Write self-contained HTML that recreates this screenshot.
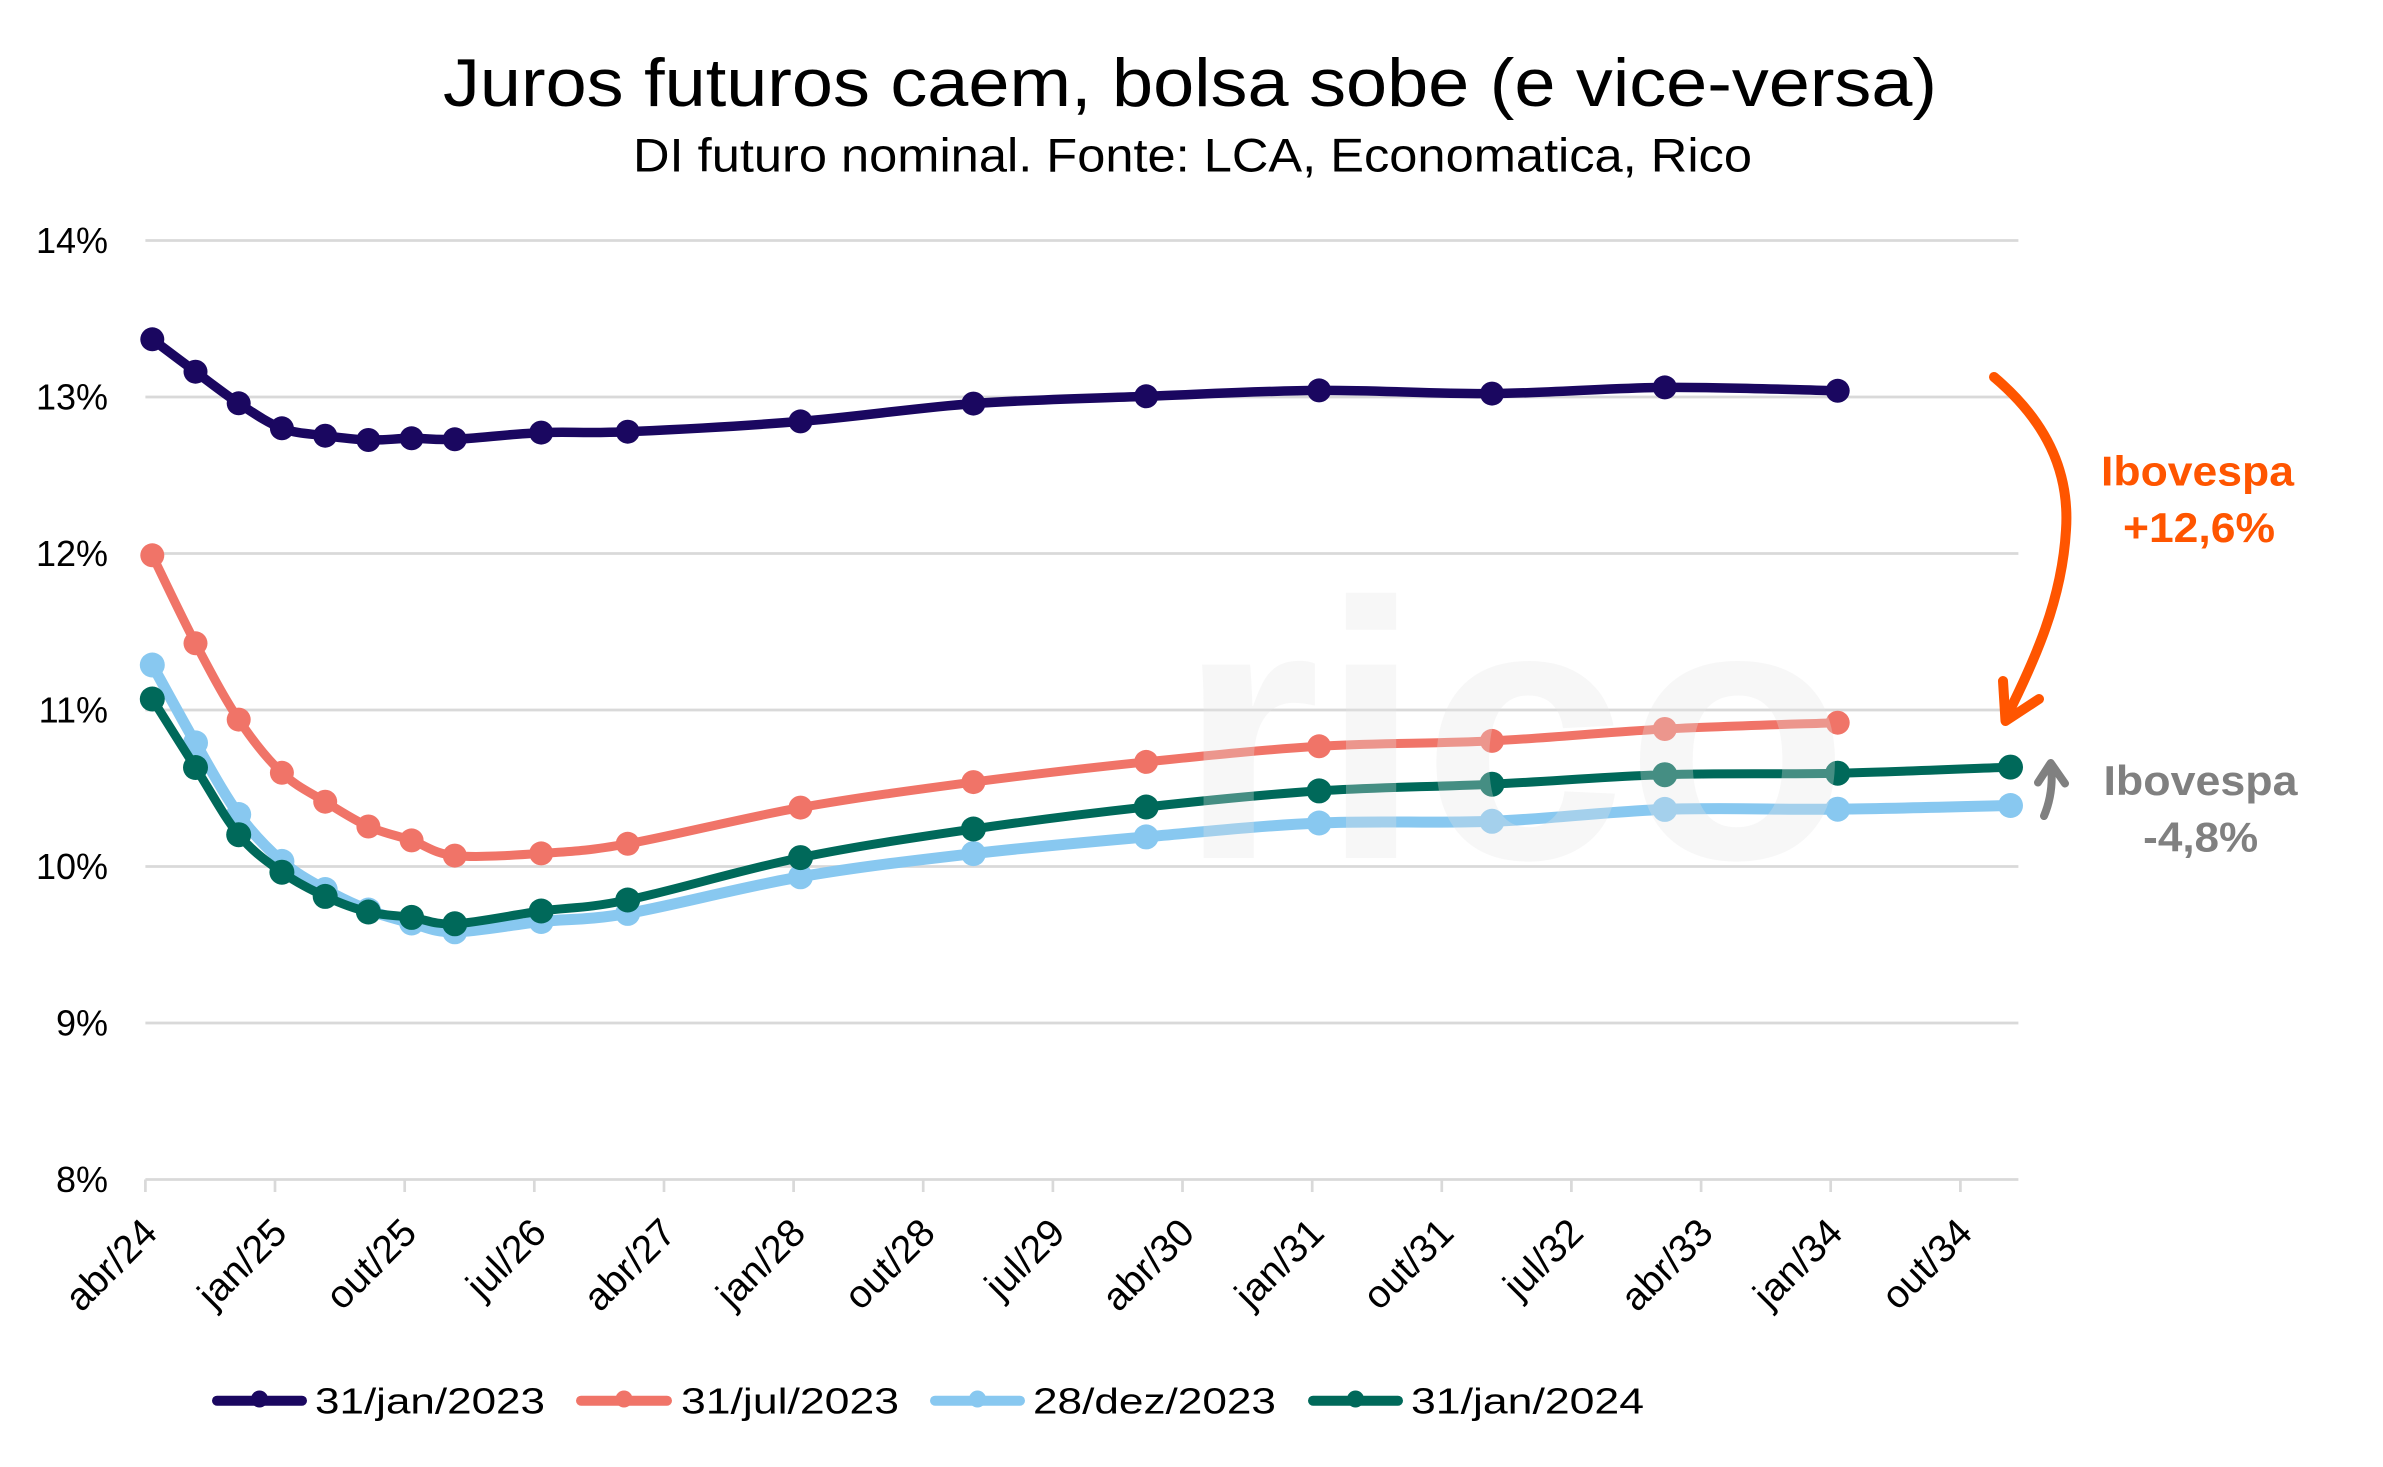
<!DOCTYPE html>
<html>
<head>
<meta charset="utf-8">
<style>
  html,body{margin:0;padding:0;background:#fff;}
  svg{display:block;}
  text{font-family:"Liberation Sans", Arial, sans-serif;}
</style>
</head>
<body>
<svg width="2383" height="1467" viewBox="0 0 2383 1467" xmlns="http://www.w3.org/2000/svg">
  <defs>
    <marker id="mN" markerWidth="26" markerHeight="26" refX="13" refY="13" markerUnits="userSpaceOnUse"><circle cx="13" cy="13" r="12" fill="#1a0760"/></marker>
    <marker id="mR" markerWidth="26" markerHeight="26" refX="13" refY="13" markerUnits="userSpaceOnUse"><circle cx="13" cy="13" r="12" fill="#f07468"/></marker>
    <marker id="mB" markerWidth="28" markerHeight="28" refX="14" refY="14" markerUnits="userSpaceOnUse"><circle cx="14" cy="14" r="12.5" fill="#88c8f0"/></marker>
    <marker id="mT" markerWidth="28" markerHeight="28" refX="14" refY="14" markerUnits="userSpaceOnUse"><circle cx="14" cy="14" r="12.5" fill="#00695a"/></marker>
  </defs>
  <rect x="0" y="0" width="2383" height="1467" fill="#fff"/>

  <!-- Title -->
  <text x="443" y="106" font-size="68" fill="#000" textLength="1494" lengthAdjust="spacingAndGlyphs">Juros futuros caem, bolsa sobe (e vice-versa)</text>
  <text x="633" y="171.5" font-size="47" fill="#000" textLength="1119" lengthAdjust="spacingAndGlyphs">DI futuro nominal. Fonte: LCA, Economatica, Rico</text>

  <!-- Gridlines -->
  <g stroke="#d9d9d9" stroke-width="2.7">
    <line x1="145.4" y1="240.5" x2="2018.4" y2="240.5"/>
    <line x1="145.4" y1="397" x2="2018.4" y2="397"/>
    <line x1="145.4" y1="553.5" x2="2018.4" y2="553.5"/>
    <line x1="145.4" y1="710" x2="2018.4" y2="710"/>
    <line x1="145.4" y1="866.5" x2="2018.4" y2="866.5"/>
    <line x1="145.4" y1="1023" x2="2018.4" y2="1023"/>
    <line x1="145.4" y1="1179.5" x2="2018.4" y2="1179.5"/>
    <!-- ticks -->
    <line x1="145.4" y1="1179.5" x2="145.4" y2="1192"/>
    <line x1="275.0" y1="1179.5" x2="275.0" y2="1192"/>
    <line x1="404.7" y1="1179.5" x2="404.7" y2="1192"/>
    <line x1="534.3" y1="1179.5" x2="534.3" y2="1192"/>
    <line x1="664.0" y1="1179.5" x2="664.0" y2="1192"/>
    <line x1="793.6" y1="1179.5" x2="793.6" y2="1192"/>
    <line x1="923.2" y1="1179.5" x2="923.2" y2="1192"/>
    <line x1="1052.9" y1="1179.5" x2="1052.9" y2="1192"/>
    <line x1="1182.5" y1="1179.5" x2="1182.5" y2="1192"/>
    <line x1="1312.2" y1="1179.5" x2="1312.2" y2="1192"/>
    <line x1="1441.8" y1="1179.5" x2="1441.8" y2="1192"/>
    <line x1="1571.4" y1="1179.5" x2="1571.4" y2="1192"/>
    <line x1="1701.1" y1="1179.5" x2="1701.1" y2="1192"/>
    <line x1="1830.7" y1="1179.5" x2="1830.7" y2="1192"/>
    <line x1="1960.4" y1="1179.5" x2="1960.4" y2="1192"/>
  </g>

  <!-- Y labels -->
  <g font-size="36" fill="#000" text-anchor="end">
    <text x="108" y="253">14%</text>
    <text x="108" y="409.5">13%</text>
    <text x="108" y="566">12%</text>
    <text x="108" y="722.5">11%</text>
    <text x="108" y="879">10%</text>
    <text x="108" y="1035.5">9%</text>
    <text x="108" y="1192">8%</text>
  </g>

  <!-- X labels -->
  <g font-size="39" fill="#000" text-anchor="end">
    <text transform="translate(159.4,1235) rotate(-45)">abr/24</text>
    <text transform="translate(289.0,1235) rotate(-45)">jan/25</text>
    <text transform="translate(418.7,1235) rotate(-45)">out/25</text>
    <text transform="translate(548.3,1235) rotate(-45)">jul/26</text>
    <text transform="translate(678.0,1235) rotate(-45)">abr/27</text>
    <text transform="translate(807.6,1235) rotate(-45)">jan/28</text>
    <text transform="translate(937.2,1235) rotate(-45)">out/28</text>
    <text transform="translate(1066.9,1235) rotate(-45)">jul/29</text>
    <text transform="translate(1196.5,1235) rotate(-45)">abr/30</text>
    <text transform="translate(1326.2,1235) rotate(-45)">jan/31</text>
    <text transform="translate(1455.8,1235) rotate(-45)">out/31</text>
    <text transform="translate(1585.4,1235) rotate(-45)">jul/32</text>
    <text transform="translate(1715.1,1235) rotate(-45)">abr/33</text>
    <text transform="translate(1844.7,1235) rotate(-45)">jan/34</text>
    <text transform="translate(1974.4,1235) rotate(-45)">out/34</text>
  </g>

  <!-- Series -->
  <g fill="none" stroke-linejoin="round" stroke-linecap="round">
    <polyline class="s" stroke="#1a0760" stroke-width="9.5" marker-start="url(#mN)" marker-mid="url(#mN)" marker-end="url(#mN)"
      points="152.3,339.3 195.5,371.7 238.7,403.3 281.9,428.3 325.2,435.7 368.4,440 411.6,438.3 454.8,439.3 541.2,432.6 627.7,431.7 800.5,421.4 973.4,403.6 1146.2,396.3 1319.1,390.4 1492,393.6 1664.8,387.4 1837.7,390.8"/>
    <polyline class="s" stroke="#f07468" stroke-width="9" marker-start="url(#mR)" marker-mid="url(#mR)" marker-end="url(#mR)"
      points="152.3,555.3 195.5,643.3 238.7,719.6 281.9,772.8 325.2,801.7 368.4,826.5 411.6,840.4 454.8,855.6 541.2,853.4 627.7,843.8 800.5,807.6 973.4,782.1 1146.2,761.9 1319.1,746.3 1492,740.9 1664.8,729 1837.7,722.7"/>
    <polyline class="s" stroke="#88c8f0" stroke-width="11" marker-start="url(#mB)" marker-mid="url(#mB)" marker-end="url(#mB)"
      points="152.3,665 195.5,742.9 238.7,814.5 281.9,861.4 325.2,889.5 368.4,910 411.6,923 454.8,931.8 541.2,921.5 627.7,913.4 800.5,876.8 973.4,853.6 1146.2,836.9 1319.1,823 1492,821.3 1664.8,809.4 1837.7,809.2 2010.5,805.5"/>
    <polyline class="s" stroke="#00695a" stroke-width="9" marker-start="url(#mT)" marker-mid="url(#mT)" marker-end="url(#mT)"
      points="152.3,699 195.5,767.5 238.7,834.7 281.9,872.2 325.2,896.4 368.4,912 411.6,917.4 454.8,923.8 541.2,911 627.7,900 800.5,857.6 973.4,829 1146.2,807 1319.1,790.9 1492,784.2 1664.8,774.7 1837.7,773.2 2010.5,767.1"/>
  </g>

  <!-- Watermark -->
  <text x="1178" y="858" font-size="366" font-weight="bold" fill="#e6e6e6" fill-opacity="0.3">rico</text>

  <!-- Orange arrow -->
  <g fill="none" stroke="#ff5500" stroke-width="10" stroke-linecap="round" stroke-linejoin="round">
    <path d="M1994,377 C2045,420 2070,470 2066,530 C2062,600 2035,660 2006,718"/>
    <polyline points="2003,681 2005.5,721 2039,699"/>
  </g>
  <text x="2197.5" y="485.7" font-size="42" font-weight="bold" fill="#ff5500" text-anchor="middle" textLength="193" lengthAdjust="spacingAndGlyphs">Ibovespa</text>
  <text x="2199" y="541.8" font-size="42" font-weight="bold" fill="#ff5500" text-anchor="middle" textLength="152" lengthAdjust="spacingAndGlyphs">+12,6%</text>

  <!-- Gray arrow -->
  <g fill="none" stroke="#808080" stroke-width="8" stroke-linecap="round" stroke-linejoin="round">
    <path d="M2044,816 Q2054,792 2051,765"/>
    <polyline points="2038,782.5 2050.7,763 2065,783.5"/>
  </g>
  <text x="2200.5" y="795.2" font-size="42" font-weight="bold" fill="#808080" text-anchor="middle" textLength="194" lengthAdjust="spacingAndGlyphs">Ibovespa</text>
  <text x="2200.7" y="851.3" font-size="42" font-weight="bold" fill="#808080" text-anchor="middle" textLength="115" lengthAdjust="spacingAndGlyphs">-4,8%</text>

  <!-- Legend -->
  <g stroke-width="10" stroke-linecap="round">
    <line x1="217" y1="1400.7" x2="302" y2="1400.7" stroke="#1a0760"/>
    <line x1="581" y1="1400.7" x2="667" y2="1400.7" stroke="#f07468"/>
    <line x1="935" y1="1400.7" x2="1020" y2="1400.7" stroke="#88c8f0"/>
    <line x1="1313" y1="1400.7" x2="1398" y2="1400.7" stroke="#00695a"/>
  </g>
  <circle cx="259.5" cy="1399" r="8.5" fill="#1a0760"/>
  <circle cx="624" cy="1399" r="8.5" fill="#f07468"/>
  <circle cx="977.5" cy="1399" r="8.5" fill="#88c8f0"/>
  <circle cx="1355.5" cy="1399" r="8.5" fill="#00695a"/>
  <g font-size="36" fill="#000">
    <text x="315" y="1413.3" textLength="230" lengthAdjust="spacingAndGlyphs">31/jan/2023</text>
    <text x="681" y="1413.3" textLength="218" lengthAdjust="spacingAndGlyphs">31/jul/2023</text>
    <text x="1033" y="1413.3" textLength="243" lengthAdjust="spacingAndGlyphs">28/dez/2023</text>
    <text x="1411" y="1413.3" textLength="233" lengthAdjust="spacingAndGlyphs">31/jan/2024</text>
  </g>
</svg>
<script>
(function(){
  try{
    var ns="http://www.w3.org/2000/svg";
    var pls=document.querySelectorAll('polyline.s');
    for(var k=0;k<pls.length;k++){
      var pl=pls[k];
      var pts=pl.getAttribute('points').trim().split(/\s+/).map(function(p){return p.split(',').map(Number);});
      var d='M'+pts[0][0]+','+pts[0][1];
      for(var i=0;i<pts.length-1;i++){
        var p0=pts[i-1]||pts[i], p1=pts[i], p2=pts[i+1], p3=pts[i+2]||pts[i+1];
        var c1x=p1[0]+(p2[0]-p0[0])/6, c1y=p1[1]+(p2[1]-p0[1])/6;
        var c2x=p2[0]-(p3[0]-p1[0])/6, c2y=p2[1]-(p3[1]-p1[1])/6;
        d+=' C'+c1x.toFixed(2)+','+c1y.toFixed(2)+' '+c2x.toFixed(2)+','+c2y.toFixed(2)+' '+p2[0]+','+p2[1];
      }
      var path=document.createElementNS(ns,'path');
      ['stroke','stroke-width','marker-start','marker-mid','marker-end'].forEach(function(a){
        var v=pl.getAttribute(a); if(v) path.setAttribute(a,v);
      });
      path.setAttribute('d',d);
      pl.parentNode.replaceChild(path,pl);
    }
  }catch(e){}
})();
</script>
</body>
</html>
